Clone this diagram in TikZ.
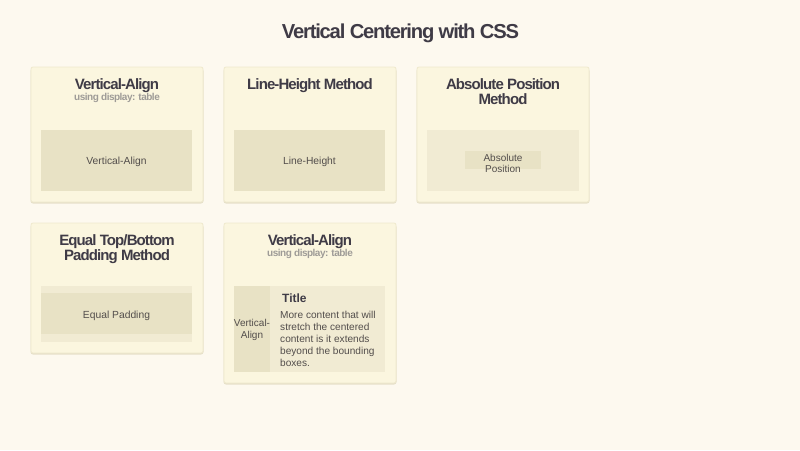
\documentclass[tikz,border=0pt]{standalone}
\usepackage{fontspec}
\setmainfont{Liberation Sans}
\definecolor{bg}{HTML}{FDF9EF}
\definecolor{cardfill}{HTML}{FBF6DF}
\definecolor{cardline}{HTML}{EFE9CD}
\definecolor{shadowc}{HTML}{E6E0C9}
\definecolor{innerc}{HTML}{E8E2C5}
\definecolor{lightc}{HTML}{F1EBD3}
\definecolor{ink}{HTML}{3F3B46}
\definecolor{bodyc}{HTML}{524D4B}
\definecolor{subc}{HTML}{9E9B97}
\tikzset{
  box/.style={inner sep=0pt, outer sep=0pt, anchor=north west},
  card/.style={box, fill=cardfill, draw=cardline, line width=0.8pt, rounded corners=2pt},
  shadebox/.style={box, fill=shadowc, rounded corners=2.5pt},
  innerbox/.style={box, fill=innerc},
  lightbox/.style={box, fill=lightc},
  heading/.style={font=\fontsize{15}{15}\selectfont\bfseries\addfontfeature{LetterSpace=-6}, text=ink, align=center, inner sep=0pt},
  subhead/.style={font=\fontsize{10}{10}\selectfont\bfseries\addfontfeature{LetterSpace=-5}, text=subc, inner sep=0pt, anchor=base},
  label/.style={font=\fontsize{10.3}{11.5}\selectfont, text=bodyc, align=center, inner sep=0pt, yshift=-1.2pt},
}
\begin{document}
\begin{tikzpicture}[x=1pt,y=-1pt]
\fill[bg] (0,0) rectangle (800,450);
\useasboundingbox (0,0) rectangle (800,450);

\node[font=\fontsize{20.2}{20.2}\selectfont\bfseries\addfontfeature{LetterSpace=-6}, text=ink, inner sep=0pt, anchor=base] (title) at (400.5,38) {Vertical Centering with CSS};

% shadows
\node[shadebox, minimum width=173pt, minimum height=135pt] (s1) at (30.5,68.5) {};
\node[shadebox, minimum width=173pt, minimum height=135pt] (s2) at (223.5,68.5) {};
\node[shadebox, minimum width=173pt, minimum height=135pt] (s3) at (416.5,68.5) {};
\node[shadebox, minimum width=173pt, minimum height=130pt] (s4) at (30.5,224.5) {};
\node[shadebox, minimum width=173pt, minimum height=160pt] (s5) at (223.5,224.5) {};

% cards
\node[card, minimum width=172pt, minimum height=135pt] (c1) at (31,67) {};
\node[card, minimum width=172pt, minimum height=135pt] (c2) at (224,67) {};
\node[card, minimum width=172pt, minimum height=135pt] (c3) at (417,67) {};
\node[card, minimum width=172pt, minimum height=130pt] (c4) at (31,223) {};
\node[card, minimum width=172pt, minimum height=160pt] (c5) at (224,223) {};

% card 1
\node[heading, anchor=base] (h1) at (117,89.4) {Vertical-Align};
\node[subhead] (u1) at (117,100.3) {using display: table};
\node[innerbox, minimum width=151pt, minimum height=61pt] (i1) at (41,130) {};
\node[label] (t1) at (i1.center) {Vertical-Align};

% card 2
\node[heading, anchor=base] (h2) at (310,89.4) {Line-Height Method};
\node[innerbox, minimum width=151pt, minimum height=61pt] (i2) at (234,130) {};
\node[label] (t2) at (i2.center) {Line-Height};

% card 3
\node[heading] (h3) at (503,91.5) {Absolute Position\\Method};
\node[lightbox, minimum width=152pt, minimum height=61pt] (i3) at (427,130) {};
\node[innerbox, minimum width=76pt, minimum height=18pt] (a3) at (465,151) {};
\node[label, font=\fontsize{10}{11}\selectfont] (t3) at (503,162.5) {Absolute\\Position};

% card 4
\node[heading] (h4) at (117,249.5) {Equal Top/Bottom\\Padding Method};
\node[lightbox, minimum width=151pt, minimum height=56pt] (o4) at (41,286) {};
\node[innerbox, minimum width=151pt, minimum height=41pt] (i4) at (41,293) {};
\node[label, yshift=-0.8pt] (t4) at (i4.center) {Equal Padding};

% card 5
\node[heading, anchor=base] (h5) at (310,245.4) {Vertical-Align};
\node[subhead] (u5) at (310,256.3) {using display: table};
\node[innerbox, minimum width=36pt, minimum height=86pt] (l5) at (234,286) {};
\node[lightbox, minimum width=115pt, minimum height=86pt] (r5) at (270,286) {};
\node[label, font=\fontsize{10}{12}\selectfont] (t5) at (252,329) {Vertical-\\Align};
\node[font=\fontsize{12}{12}\selectfont\bfseries, text=ink, inner sep=0pt, anchor=base west] (tt5) at (282,302.3) {Title};
\node[font=\fontsize{10.1}{11.9}\selectfont, text=bodyc, align=left, inner sep=0pt, anchor=north west] (p5) at (280,311.2) {More content that will\\stretch the centered\\content is it extends\\beyond the bounding\\boxes.};
\end{tikzpicture}
\end{document}
